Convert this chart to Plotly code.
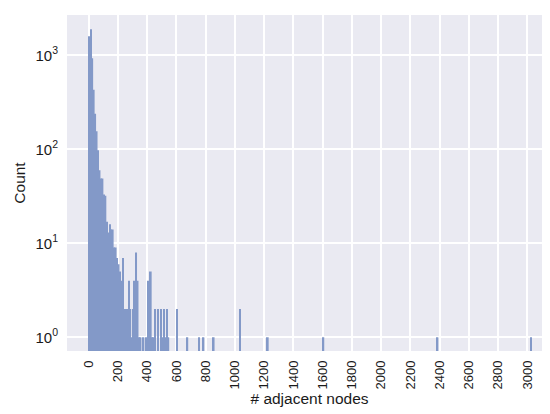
import plotly.graph_objects as go

# histogram of adjacent-node counts, bin width 10 (left edges + counts)
bin_width = 10
bin_left = [0, 10, 20, 30, 40, 50, 60, 70, 80, 90,
            100, 110, 120, 130, 140, 150, 160, 170, 180, 190,
            200, 210, 220, 230, 240, 250, 260, 270, 280, 290,
            300, 310, 320, 330, 340, 350, 370, 390, 400, 410,
            420, 430, 440, 450, 470, 490, 500, 510, 520, 530,
            540, 600, 670, 750, 780, 850, 1030, 1220, 1600, 2380,
            3020]
counts = [1600, 1900, 930, 430, 240, 156, 98, 60, 49, 49,
          33, 32, 17, 13, 16, 14, 14, 9, 9, 7,
          6, 5, 4, 7, 2, 2, 2, 4, 2, 1,
          2, 4, 8, 4, 1, 1, 1, 1, 4, 1,
          5, 1, 1, 2, 2, 2, 1, 2, 1, 2,
          1, 2, 1, 1, 1, 1, 2, 1, 1, 1,
          1]
x_ticks = list(range(0, 3001, 200))
y_ticks = [1, 10, 100, 1000]
y_labels = ["10<sup>0</sup>", "10<sup>1</sup>", "10<sup>2</sup>", "10<sup>3</sup>"]

centers = [b + bin_width / 2 for b in bin_left]

fig = go.Figure()
fig.add_trace(go.Bar(
    x=centers, y=counts, width=bin_width * 1.15,
    marker=dict(color="#8399c8", line=dict(width=0)),
))

font = "Liberation Sans, Arial, sans-serif"
fig.update_layout(
    width=550, height=414,
    margin=dict(l=59, r=6, t=7, b=71),
    paper_bgcolor="white", plot_bgcolor="#eaeaf2",
    font=dict(family=font, size=13, color="#1a1a1a"),
    showlegend=False,
)
fig.update_xaxes(
    range=[-148, 3168], tickvals=x_ticks, tickangle=-90,
    showgrid=True, gridcolor="white", gridwidth=1.5, zeroline=False,
    ticks="", ticklabelstandoff=6,
    title=dict(text="# adjacent nodes", font=dict(size=15.5), standoff=4),
    tickfont=dict(size=13),
)
fig.update_yaxes(
    type="log", range=[-0.146, 3.43], tickvals=y_ticks, ticktext=y_labels,
    showgrid=True, gridcolor="white", gridwidth=1.5, zeroline=False,
    ticks="", ticklabelstandoff=8,
    title=dict(text="Count", font=dict(size=15.5), standoff=6),
    tickfont=dict(size=15),
)

fig.write_html("out.html")
